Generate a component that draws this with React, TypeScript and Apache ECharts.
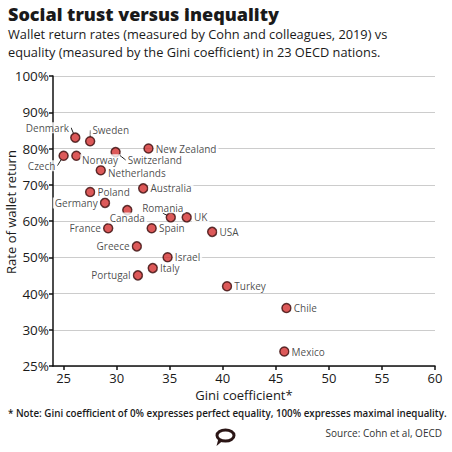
import { useEffect, useRef } from 'react';
import * as echarts from 'echarts';

const countries = ['Denmark', 'Sweden', 'New Zealand', 'Switzerland', 'Czech', 'Norway', 'Netherlands', 'Poland', 'Australia', 'Germany', 'Canada', 'Romania', 'UK', 'France', 'Spain', 'USA', 'Greece', 'Israel', 'Italy', 'Portugal', 'Turkey', 'Chile', 'Mexico'];
const gini = [26.1, 27.5, 33.0, 29.9, 25.0, 26.2, 28.5, 27.5, 32.5, 28.9, 31.0, 35.1, 36.6, 29.2, 33.3, 39.0, 31.9, 34.8, 33.4, 32.0, 40.4, 46.0, 45.8];
const walletReturn = [83, 82, 80, 79, 78, 78, 74, 68, 69, 65, 63, 61, 61, 58, 58, 57, 53, 50, 47, 45, 42, 36, 24];
const xTicks = [25, 30, 35, 40, 45, 50, 55, 60];
const yTicks = [20, 30, 40, 50, 60, 70, 80, 90, 100];
const yTickLabels = ['25%', '30%', '40%', '50%', '60%', '70%', '80%', '90%', '100%'];

const FONT = '"Open Sans", "DejaVu Sans", sans-serif';

type Place = { pos: string; dx?: number; dy?: number; leader?: boolean };
const labelPlace: Record<string, Place> = {
  Denmark: { pos: 'left', dx: 1, dy: -10, leader: true },
  Sweden: { pos: 'right', dx: -5, dy: -11, leader: true },
  Czech: { pos: 'left', dx: -1, dy: 10, leader: true },
  Norway: { pos: 'right', dx: -1.5, dy: 4 },
  Switzerland: { pos: 'right', dx: 5, dy: 8, leader: true },
  Romania: { pos: 'top', dx: -8, dy: 1, leader: true },
  Canada: { pos: 'bottom', dy: -3 },
  Netherlands: { pos: 'right', dy: 2.5 },
  Germany: { pos: 'left' },
  France: { pos: 'left' },
  Greece: { pos: 'left' },
  Portugal: { pos: 'left' },
};

export default function App() {
  const ref = useRef<HTMLDivElement>(null);
  useEffect(() => {
    if (!ref.current) return;
    const chart = echarts.init(ref.current, undefined, { renderer: 'svg' });
    const data = countries.map((c, i) => {
      const p = labelPlace[c];
      return {
        name: c,
        value: [gini[i], walletReturn[i]],
        label: { position: p ? p.pos : 'right' },
        labelLine: { show: !!(p && p.leader) },
      };
    });
    chart.setOption({
      animation: false,
      backgroundColor: '#ffffff',
      textStyle: { fontFamily: FONT },
      grid: { left: 53, right: 17, top: 76, bottom: 86, containLabel: false, outerBoundsMode: 'none' },
      xAxis: {
        type: 'value',
        min: 24,
        max: 60,
        name: 'Gini coefficient*',
        nameLocation: 'middle',
        nameGap: 22,
        nameTextStyle: { fontSize: 13, color: '#1a1a1a', fontFamily: FONT },
        axisLine: { show: true, lineStyle: { color: '#111', width: 1.5 } },
        axisTick: { show: true, length: 4, customValues: xTicks, lineStyle: { color: '#111', width: 1.5 } },
        axisLabel: { customValues: xTicks, fontSize: 13, color: '#1a1a1a', margin: 5, fontFamily: FONT },
        splitLine: { show: false },
      },
      yAxis: {
        type: 'value',
        min: 20,
        max: 100,
        interval: 10,
        axisLine: { show: true, lineStyle: { color: '#111', width: 1.5 } },
        axisTick: { show: true, length: 4, lineStyle: { color: '#111', width: 1.5 } },
        axisLabel: {
          fontSize: 13.5,
          color: '#1a1a1a',
          margin: 4,
          fontFamily: FONT,
          formatter: (v: number) => {
            const k = yTicks.indexOf(v);
            return k >= 0 ? yTickLabels[k] : '';
          },
        },
        splitLine: { show: true, lineStyle: { color: '#cccccc', width: 1 } },
      },
      series: [
        {
          type: 'scatter',
          symbol: 'circle',
          symbolSize: 9,
          itemStyle: { color: '#d3302f', borderColor: '#3a0c0c', borderWidth: 1.5 },
          label: {
            show: true,
            formatter: '{b}',
            fontSize: 10,
            fontWeight: 500,
            lineHeight: 11,
            fontFamily: FONT,
            color: '#1a1a1a',
            backgroundColor: '#ffffff',
            padding: [0, 2],
            distance: 0,
          },
          labelLine: { show: false, smooth: 0.4, lineStyle: { color: '#1a1a1a', width: 1 } },
          labelLayout: (params: any) => {
            const p = labelPlace[countries[params.dataIndex]];
            if (p && (p.dx || p.dy)) return { dx: p.dx || 0, dy: p.dy || 0 };
            return {};
          },
          data,
        },
      ],
      graphic: [
        {
          type: 'text', x: 8, y: 13.5,
          style: { text: 'Social trust versus inequality', font: `800 18px ${FONT}`, lineHeight: 18, fill: '#1a1a1a', verticalAlign: 'middle' },
        },
        {
          type: 'text', x: 8, y: 33.5,
          style: { text: 'Wallet return rates (measured by Cohn and colleagues, 2019) vs', font: `12.8px ${FONT}`, lineHeight: 14, fill: '#1a1a1a', verticalAlign: 'middle' },
        },
        {
          type: 'text', x: 8, y: 52,
          style: { text: 'equality (measured by the Gini coefficient) in 23 OECD nations.', font: `12.8px ${FONT}`, lineHeight: 14, fill: '#1a1a1a', verticalAlign: 'middle' },
        },
        {
          type: 'text', x: 11, y: 212, rotation: Math.PI / 2,
          style: { text: 'Rate of wallet return', font: `13px ${FONT}`, fill: '#1a1a1a', align: 'center', verticalAlign: 'middle' },
        },
        {
          type: 'text', x: 8, y: 413,
          style: { text: '* Note: Gini coefficient of 0% expresses perfect equality, 100% expresses maximal inequality.', font: `600 9.8px ${FONT}`, fill: '#1a1a1a', verticalAlign: 'middle' },
        },
        {
          type: 'text', x: 442, y: 433,
          style: { text: 'Source: Cohn et al, OECD', font: `10px ${FONT}`, fill: '#333333', align: 'right', verticalAlign: 'middle' },
        },
        {
          type: 'ellipse',
          shape: { cx: 225.5, cy: 435.5, rx: 8.5, ry: 5.5 },
          style: { fill: 'none', stroke: '#2b1616', lineWidth: 3 },
        },
        {
          type: 'polygon',
          shape: { points: [[218.5, 438.5], [216.5, 446], [223, 440.5]] },
          style: { fill: '#2b1616' },
        },
      ],
    });
    return () => chart.dispose();
  }, []);
  return <div ref={ref} style={{ position: 'absolute', left: 0, top: 0, width: 452, height: 452, background: '#fff' }} />;
}
